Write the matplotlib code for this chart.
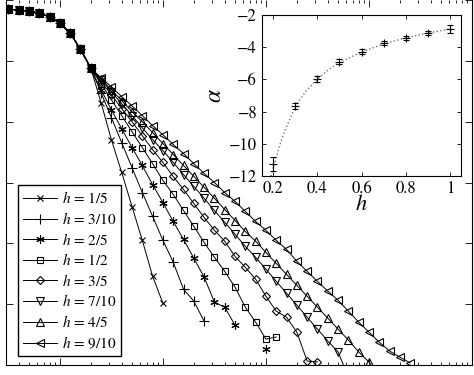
import numpy as np
import matplotlib
matplotlib.use("Agg")
import matplotlib.pyplot as plt
from matplotlib.ticker import FixedLocator, LogLocator, NullLocator, NullFormatter

plt.rcParams['font.family'] = 'STIXGeneral'
plt.rcParams['mathtext.fontset'] = 'stix'

# x values: 10 points per decade, 10^(k/10), k = -5 ... 34
k = np.arange(-5, 35)
x = 10.0 ** (k / 10.0)

# shared part of all curves (log10 of y)
common = [-0.30, -0.33, -0.36, -0.44, -0.55, -0.76, -1.09, -1.62, -2.24]

# tails after the curves separate (log10 of y), nan = no value
tail_1_5 = [-3.38, -4.59, -5.67, -6.79, -7.90, -9.08, -9.97]
tail_3_10 = [-3.05, -3.87, -4.69, -5.51, -6.33, -7.11, -7.90, -8.62, -9.51, -9.90, -10.56]
tail_2_5 = [-2.95, -3.61, -4.23, -4.85, -5.44, -6.07, -6.66, -7.28, -7.87, -8.49, -9.11,
            -9.93, -10.10, -10.69, np.nan, np.nan, -11.48]
tail_1_2 = [-2.75, -3.28, -3.80, -4.33, -4.85, -5.38, -5.93, -6.39, -6.92, -7.44, -7.97,
            -8.46, -8.92, -9.44, -10.10, -10.59, -11.15, -11.08]
tail_3_5 = [-2.69, -3.11, -3.57, -4.00, -4.46, -4.92, -5.34, -5.80, -6.23, -6.69, -7.15,
            -7.57, -7.93, -8.43, -8.79, -9.18, -9.74, -10.23, -10.43, -10.92, -11.87, -11.90]
tail_7_10 = [-2.62, -3.02, -3.41, -3.80, -4.20, -4.59, -4.95, -5.34, -5.74, -6.13, -6.52,
             -6.92, -7.31, -7.70, -8.10, -8.46, -8.85, -9.25, -9.64, -10.03, -10.43, -10.82,
             -11.21, -11.57, -12.4]
tail_4_5 = [-2.59, -2.95, -3.31, -3.67, -4.00, -4.36, -4.72, -5.08, -5.44, -5.80, -6.16,
            -6.52, -6.89, -7.25, -7.61, -7.93, -8.30, -8.66, -9.02, -9.38, -9.74, -10.10,
            -10.46, -10.82, -11.18, -11.57, -11.90, -12.4]
tail_9_10 = [-2.56, -2.85, -3.18, -3.48, -3.80, -4.13, -4.43, -4.75, -5.05, -5.38, -5.70,
             -6.00, -6.33, -6.62, -6.95, -7.28, -7.57, -7.90, -8.20, -8.59, -8.92, -9.25,
             -9.57, -9.87, -10.23, -10.59, -10.92, -11.25, -11.54, -11.74, -11.93]

labels = ['1/5', '3/10', '2/5', '1/2', '3/5', '7/10', '4/5', '9/10']
tails = [tail_1_5, tail_3_10, tail_2_5, tail_1_2, tail_3_5, tail_7_10, tail_4_5, tail_9_10]
markers = ['x', '+', (6, 2, 0), 's', 'D', 'v', '^', '<']
msizes = [5, 7, 6, 5, 4.5, 6, 6, 6]

# inset data: alpha vs h
h = [0.2, 0.3, 0.4, 0.5, 0.6, 0.7, 0.8, 0.9, 1.0]
alpha = [-11.25, -7.65, -5.98, -4.90, -4.28, -3.76, -3.41, -3.14, -2.89]
alpha_err = [0.45, 0.2, 0.2, 0.15, 0.15, 0.12, 0.12, 0.12, 0.25]
h_fit = [0.19, 0.2, 0.225, 0.25, 0.3, 0.35, 0.4, 0.45, 0.5, 0.6, 0.7, 0.8, 0.9, 1.0]
alpha_fit = [-12.0, -11.6, -10.3, -9.3, -7.7, -6.7, -6.0, -5.4, -4.95, -4.3, -3.8, -3.42, -3.12, -2.88]

fig = plt.figure(figsize=(4.74, 3.75), dpi=100)
ax = fig.add_axes([6 / 474, 10 / 375, 466 / 474, 365 / 375])

for lab, tail, mk, ms in zip(labels, tails, markers, msizes):
    logy = np.array(common + tail)
    xx = x[:len(logy)]
    ax.plot(xx, 10.0 ** logy, color='k', linewidth=0.7, marker=mk, markersize=ms,
            markerfacecolor='none', markeredgecolor='k', markeredgewidth=0.8,
            label=r'$h$ = ' + lab)

ax.set_xscale('log')
ax.set_yscale('log')
ax.set_xlim(0.3, 1e4)
ax.set_ylim(1e-12, 1)
ax.xaxis.set_major_locator(FixedLocator([1, 10, 100, 1000, 10000]))
ax.xaxis.set_minor_locator(LogLocator(base=10, subs=np.arange(2, 10), numticks=20))
ax.xaxis.set_major_formatter(NullFormatter())
ax.xaxis.set_minor_formatter(NullFormatter())
ax.yaxis.set_major_locator(FixedLocator([10.0 ** e for e in range(-12, 1, 2)]))
ax.yaxis.set_minor_locator(NullLocator())
ax.yaxis.set_major_formatter(NullFormatter())
ax.tick_params(which='both', direction='in', top=True, right=True, width=0.6)
ax.tick_params(which='major', length=5)
ax.tick_params(which='minor', length=2.5)
ax.spines['top'].set_visible(False)
for s in ['left', 'right', 'bottom']:
    ax.spines[s].set_linewidth(0.8)

leg = ax.legend(loc='upper left', bbox_to_anchor=(12 / 466, 180 / 365), borderaxespad=0,
                fontsize=11, handlelength=2.2, handletextpad=0.3, labelspacing=0.3,
                borderpad=0.35, fancybox=False, framealpha=1, edgecolor='k')
leg.get_frame().set_linewidth(1.0)

# inset
ins = fig.add_axes([262 / 474, (375 - 176) / 375, 199 / 474, 161 / 375])
ins.plot(h_fit, alpha_fit, linestyle=':', color='0.45', linewidth=1.0)
ins.errorbar(h, alpha, yerr=alpha_err, fmt='+', color='k', markersize=6, capsize=2,
             elinewidth=0.8, markeredgewidth=0.8)
ins.set_xlim(0.15, 1.05)
ins.set_ylim(-12, -2)
ins.set_xticks([0.2, 0.4, 0.6, 0.8, 1.0])
ins.set_xticklabels(['0.2', '0.4', '0.6', '0.8', '1'])
ins.set_yticks([-12, -10, -8, -6, -4, -2])
ins.tick_params(direction='in', top=True, right=True, labelsize=12, length=3, width=0.6)
ins.set_xlabel(r'$h$', fontsize=16, labelpad=-1)
ins.set_ylabel(r'$\alpha$', fontsize=17, labelpad=2, rotation=90)
for s in ins.spines.values():
    s.set_linewidth(0.8)

fig.savefig('out.png', dpi=100)
